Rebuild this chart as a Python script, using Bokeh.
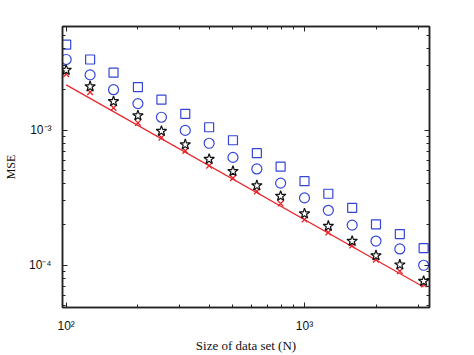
from bokeh.plotting import figure
from bokeh.models import LogAxis, FixedTicker, Range1d
from bokeh.embed import file_html
from bokeh.resources import INLINE

# Data
N = [100, 126, 158, 200, 251, 316, 398, 501, 631, 794, 1000, 1259, 1585, 1995, 2512, 3162]
mse_square = [4.29e-3, 3.33e-3, 2.66e-3, 2.08e-3, 1.68e-3, 1.32e-3, 1.05e-3, 8.41e-4,
              6.75e-4, 5.36e-4, 4.19e-4, 3.38e-4, 2.66e-4, 2.01e-4, 1.70e-4, 1.34e-4]
mse_circle = [3.33e-3, 2.56e-3, 1.99e-3, 1.57e-3, 1.245e-3, 9.95e-4, 7.99e-4, 6.28e-4,
              5.16e-4, 4.05e-4, 3.15e-4, 2.55e-4, 1.98e-4, 1.51e-4, 1.32e-4, 1.00e-4]
mse_star = [2.78e-3, 2.10e-3, 1.63e-3, 1.28e-3, 9.83e-4, 7.82e-4, 6.10e-4, 4.96e-4,
            3.89e-4, 3.25e-4, 2.41e-4, 1.95e-4, 1.51e-4, 1.18e-4, 1.01e-4, 7.63e-5]
mse_cross = [2.59e-3, 1.91e-3, 1.46e-3, 1.13e-3, 8.80e-4, 7.02e-4, 5.45e-4, 4.41e-4,
             3.52e-4, 2.86e-4, 2.18e-4, 1.75e-4, 1.40e-4, 1.10e-4, 9.04e-5, 7.21e-5]
line_N = [100, 3162]
line_mse = [2.16e-3, 6.9e-5]

x_major = [100, 1000]
x_minor = [200, 300, 400, 500, 600, 700, 800, 900, 2000, 3000]
x_labels = {100: "10²", 1000: "10³"}
y_major = [1e-4, 1e-3]
y_minor = [5e-5, 6e-5, 7e-5, 8e-5, 9e-5, 2e-4, 3e-4, 4e-4, 5e-4, 6e-4, 7e-4, 8e-4, 9e-4,
           2e-3, 3e-3, 4e-3, 5e-3]
y_labels = {1e-4: "10⁻⁴", 1e-3: "10⁻³"}

p = figure(width=474, height=355, x_axis_type="log", y_axis_type="log",
           x_range=Range1d(96.5, 3346), y_range=Range1d(4.87e-5, 5.84e-3),
           output_backend="svg", toolbar_location=None,
           min_border_left=62, min_border_top=26, min_border_right=45, min_border_bottom=45)

p.xgrid.visible = False
p.ygrid.visible = False
p.outline_line_color = "#222222"
p.outline_line_width = 1.5
p.background_fill_color = "white"
p.border_fill_color = "white"

xt = FixedTicker(ticks=x_major, minor_ticks=x_minor)
yt = FixedTicker(ticks=y_major, minor_ticks=y_minor)

def style(ax, show_labels):
    ax.major_tick_in = 5
    ax.major_tick_out = 0
    ax.minor_tick_in = 3
    ax.minor_tick_out = 0
    ax.axis_line_color = "#222222"
    ax.axis_line_width = 1.5
    ax.major_tick_line_color = "#222222"
    ax.minor_tick_line_color = "#222222"
    if not show_labels:
        ax.major_label_text_font_size = "0px"
        ax.major_label_text_alpha = 0

xa = p.xaxis[0]
xa.ticker = xt
xa.major_label_overrides = x_labels
style(xa, True)
xa.major_label_text_font = "Liberation Sans"
xa.major_label_text_font_size = "12px"
xa.major_label_text_color = "#111111"
xa.major_label_standoff = 11
xa.axis_label = "Size of data set (N)"
xa.axis_label_text_font = "Liberation Serif"
xa.axis_label_text_font_style = "normal"
xa.axis_label_text_font_size = "13px"
xa.axis_label_text_color = "#111111"
xa.axis_label_standoff = 2

ya = p.yaxis[0]
ya.ticker = yt
ya.major_label_overrides = y_labels
style(ya, True)
ya.major_label_text_font = "Liberation Sans"
ya.major_label_text_font_size = "12px"
ya.major_label_text_color = "#111111"
ya.major_label_standoff = 11
ya.axis_label = "MSE"
ya.axis_label_text_font = "Liberation Serif"
ya.axis_label_text_font_style = "normal"
ya.axis_label_text_font_size = "12px"
ya.axis_label_text_color = "#111111"
ya.axis_label_standoff = 8

top = LogAxis(ticker=FixedTicker(ticks=x_major, minor_ticks=x_minor))
style(top, False)
p.add_layout(top, "above")
right = LogAxis(ticker=FixedTicker(ticks=y_major, minor_ticks=y_minor))
style(right, False)
p.add_layout(right, "right")

p.line(line_N, line_mse, line_color="#e8242a", line_width=1.2)
p.scatter(N, mse_square, marker="square", size=9, fill_color=None,
          line_color="#3346d6", line_width=1.2)
p.scatter(N, mse_circle, marker="circle", size=10, fill_color=None,
          line_color="#3346d6", line_width=1.2)
p.scatter(N, mse_cross, marker="x", size=8, line_color="#e8242a", line_width=1.3)
p.scatter(N, mse_star, marker="star", size=11, fill_color="white",
          line_color="#111111", line_width=1.2)

open("out.html", "w").write(file_html(p, INLINE))
